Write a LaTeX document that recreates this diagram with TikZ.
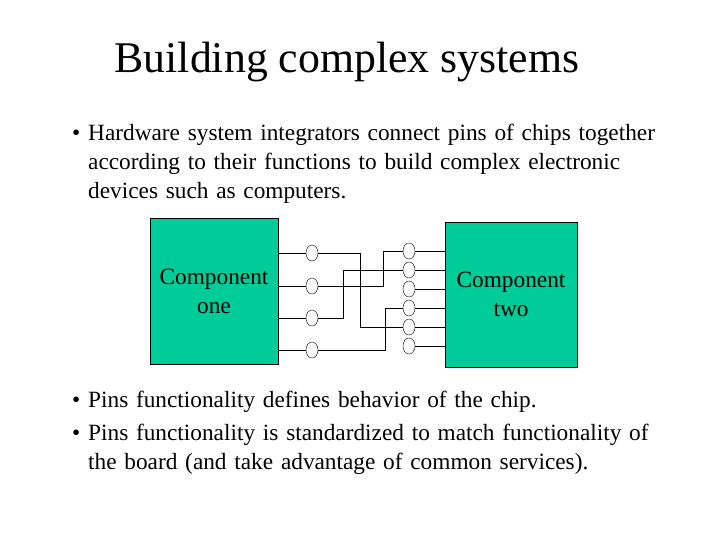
\documentclass[tikz,border=0pt]{standalone}
\usepackage{fontspec}
\usetikzlibrary{shapes.geometric}
\setmainfont{Liberation Serif}
\begin{document}
\begin{tikzpicture}[x=1pt,y=-1pt,
  pin/.style={draw=black,fill=white,ellipse,minimum width=12pt,minimum height=16pt,inner sep=0pt},
  wire/.style={black,line width=0.8pt},
  txt/.style={anchor=north west,align=left,inner sep=0pt,font=\fontsize{23.3}{29}\selectfont,text width=640pt}]
\definecolor{compgreen}{RGB}{0,204,153}
\useasboundingbox (0,0) rectangle (720,540);
\node (title) at (347,62) {\fontsize{43.8}{48}\selectfont Building complex systems};
\node[txt] (b1) at (72,124) {\makebox[16pt][l]{•}Hardware system integrators connect pins of chips together\\\hspace*{16pt}according to their functions to build complex electronic\\\hspace*{16pt}devices such as computers.};
\node[txt] (b2) at (72,391) {\makebox[16pt][l]{•}Pins functionality defines behavior of the chip.};
\node[txt] (b3) at (72,424) {\makebox[16pt][l]{•}Pins functionality is standardized to match functionality of\\\hspace*{16pt}the board (and take advantage of common services).};
\node[draw,fill=compgreen,minimum width=128pt,minimum height=146pt,inner sep=0pt,align=center,font=\fontsize{23.3}{29}\selectfont] (c1) at (214,291) {Component\\one};
\node[draw,fill=compgreen,minimum width=132pt,minimum height=145pt,inner sep=0pt,align=center,font=\fontsize{23.3}{29}\selectfont] (c2) at (511,294.5) {Component\\two};
\foreach \i/\y in {1/253,2/286,3/318,4/350}{
  \coordinate (ls\i) at (278,\y);
  \node[pin] (l\i) at (312,\y) {};
  \draw[wire] (ls\i) -- (l\i);
}
\foreach \i/\y in {1/251,2/270,3/289,4/308,5/327,6/346}{
  \coordinate (re\i) at (445,\y);
  \node[pin] (r\i) at (409,\y) {};
  \draw[wire] (r\i) -- (re\i);
}
\draw[wire] (l1) -| (360,327) -- (r5);
\draw[wire] (l2) -| (383,251) -- (r1);
\draw[wire] (l3) -| (343,270) -- (r2);
\draw[wire] (l4) -| (385,308) -- (r4);
\end{tikzpicture}
\end{document}
